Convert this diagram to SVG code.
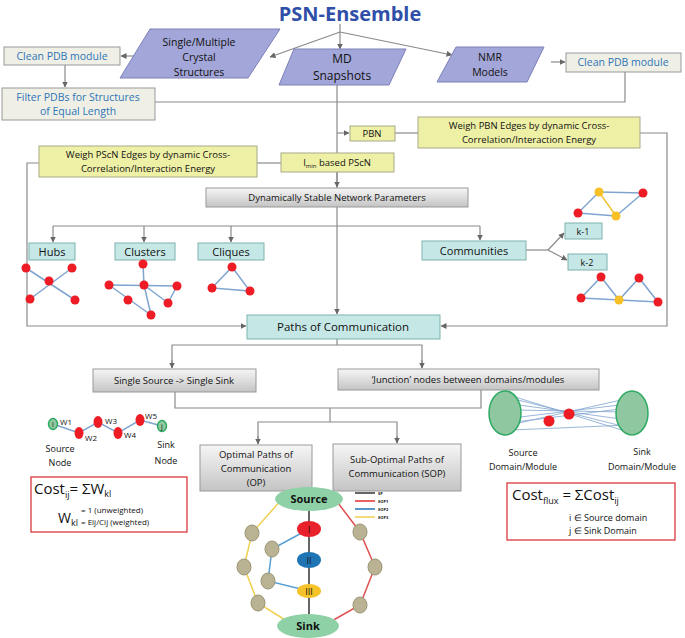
<svg xmlns="http://www.w3.org/2000/svg" width="685" height="638" viewBox="0 0 685 638">
<defs>
<linearGradient id="gg" x1="0" y1="0" x2="0" y2="1"><stop offset="0" stop-color="#f6f6f6"/><stop offset="1" stop-color="#c4c4c4"/></linearGradient>
<marker id="ar" viewBox="0 0 6 6" refX="5.5" refY="3" markerWidth="5" markerHeight="5" orient="auto"><path d="M0,0 L6,3 L0,6 z" fill="#666"/></marker>
</defs>
<style>
text{font-family:"Open Sans","Liberation Sans",sans-serif;fill:#111;}
.t{font-size:10.5px;text-anchor:middle;}
.b{fill:#2e75b6;}
.cl{fill:#efefe6;stroke:#9a9a9a;stroke-width:1;}
.pg{fill:#a3a6d8;stroke:#7d80b8;stroke-width:1;}
.yl{fill:#eef0a6;stroke:#a9aa8a;stroke-width:1;}
.tl{fill:#c5e8e6;stroke:#7fb1ae;stroke-width:1;}
.gr{fill:url(#gg);stroke:#999;stroke-width:1;}
.c line,.c polyline,.c path{stroke:#8a8a8a;stroke-width:1.2;fill:none;}
.e{stroke:#7fa4cf;stroke-width:1.5;}
.ey{stroke:#f1c232;stroke-width:1.5;}
.r{fill:#ee1c25;}
.y{fill:#f6c026;}
.g{fill:#8fc8a0;stroke:#2eaa63;stroke-width:1.5;}
.n{fill:#b9b394;stroke:#9b9575;stroke-width:1;}
.rb{fill:#fff;stroke:#d9393c;stroke-width:1.3;}
</style>
<text x="350" y="21" style="font-size:20px;font-weight:bold;fill:#2f4fa8;text-anchor:middle">PSN-Ensemble</text>

<g class="c" id="connectors">
<line x1="340" y1="24" x2="340" y2="32"/>
<line x1="340" y1="32" x2="270" y2="57" marker-end="url(#ar)"/>
<line x1="340" y1="32" x2="340" y2="49" marker-end="url(#ar)"/>
<line x1="340" y1="32" x2="452" y2="55" marker-end="url(#ar)"/>
<line x1="135" y1="56" x2="121" y2="56" marker-end="url(#ar)"/>
<line x1="551" y1="62" x2="565" y2="62" marker-end="url(#ar)"/>
<line x1="65" y1="65" x2="65" y2="87" marker-end="url(#ar)"/>
<polyline points="625,72 625,102 155,102"/>
<line x1="337" y1="85" x2="337" y2="314" marker-end="url(#ar)"/>
<line x1="337" y1="133" x2="349" y2="133" marker-end="url(#ar)"/>
<line x1="395" y1="133" x2="418" y2="133"/>
<polyline points="640,133 667,133 667,326 441,326" marker-end="url(#ar)"/>
<line x1="337" y1="172" x2="337" y2="187" marker-end="url(#ar)"/>
<line x1="257" y1="163" x2="281" y2="163"/>
<polyline points="39,163 27,163 27,326 246,326" marker-end="url(#ar)"/>
<line x1="53" y1="226" x2="480" y2="226"/>
<line x1="53" y1="226" x2="53" y2="242" marker-end="url(#ar)"/>
<line x1="144" y1="226" x2="144" y2="242" marker-end="url(#ar)"/>
<line x1="231" y1="226" x2="231" y2="242" marker-end="url(#ar)"/>
<line x1="480" y1="226" x2="480" y2="240" marker-end="url(#ar)"/>
<line x1="526" y1="250" x2="548" y2="250"/>
<line x1="548" y1="250" x2="564" y2="233" marker-end="url(#ar)"/>
<line x1="548" y1="250" x2="567" y2="260" marker-end="url(#ar)"/>
<polyline points="337,339 337,345"/>
<polyline points="172,368 172,345 422,345 422,368"/>
<line x1="172" y1="360" x2="172" y2="368" marker-end="url(#ar)"/>
<line x1="422" y1="360" x2="422" y2="368" marker-end="url(#ar)"/>
<polyline points="175,392 175,408 481,408 481,390"/>
<line x1="330" y1="408" x2="330" y2="422"/>
<polyline points="258,444 258,422 397,422 397,443"/>
<line x1="258" y1="436" x2="258" y2="444" marker-end="url(#ar)"/>
<line x1="397" y1="436" x2="397" y2="443" marker-end="url(#ar)"/>
</g>

<g id="crystal"><polygon class="pg" points="150,29 280,29 248,78 120,78"/>
<text class="t" x="199" y="46">Single/Multiple</text><text class="t" x="199" y="61">Crystal</text><text class="t" x="199" y="76">Structures</text></g>
<g id="md"><polygon class="pg" points="294,49 406,49 389,85 279,85"/>
<text class="t" x="342" y="63" style="font-size:12px">MD</text><text class="t" x="342" y="80" style="font-size:12px">Snapshots</text></g>
<g id="nmr"><polygon class="pg" points="456,47 544,47 527,82 437,82"/>
<text class="t" x="490" y="61">NMR</text><text class="t" x="490" y="76">Models</text></g>
<g id="cleanL"><rect class="cl" x="4" y="47" width="116" height="18"/><text class="t b" x="62" y="60">Clean PDB module</text></g>
<g id="cleanR"><rect class="cl" x="566" y="53" width="115" height="19"/><text class="t b" x="623" y="66">Clean PDB module</text></g>
<g id="filter"><rect class="cl" x="2" y="88" width="153" height="32"/><text class="t b" x="78" y="101">Filter PDBs for Structures</text><text class="t b" x="78" y="115">of Equal Length</text></g>
<g id="pbn"><rect class="yl" x="350" y="126" width="45" height="15"/><text class="t" x="372" y="137" style="font-size:9.5px">PBN</text></g>
<g id="weighPBN"><rect class="yl" x="418" y="117" width="222" height="31"/><text class="t" x="529" y="129" style="font-size:9.5px">Weigh  PBN Edges by dynamic Cross-</text><text class="t" x="529" y="143" style="font-size:9.5px">Correlation/Interaction Energy</text></g>
<g id="pscn"><rect class="yl" x="281" y="153" width="113" height="19"/><text class="t" x="337" y="166" style="font-size:9.5px">I<tspan style="font-size:6px" dy="2">min</tspan><tspan dy="-2"> based PScN</tspan></text></g>
<g id="weighPScN"><rect class="yl" x="39" y="146" width="218" height="31"/><text class="t" x="148" y="158" style="font-size:9.5px">Weigh PScN Edges by dynamic Cross-</text><text class="t" x="148" y="172" style="font-size:9.5px">Correlation/Interaction Energy</text></g>
<g id="dsnp"><rect class="gr" x="206" y="188" width="262" height="19"/><text class="t" x="337" y="201" style="font-size:9.5px">Dynamically Stable Network Parameters</text></g>

<g id="hubs"><rect class="tl" x="29" y="243" width="46" height="17"/><text class="t" x="52" y="256" style="font-size:11px">Hubs</text>
<line class="e" x1="26" y1="268" x2="75" y2="300"/><line class="e" x1="72" y1="268" x2="30" y2="299"/>
<circle class="r" cx="26" cy="268" r="4.5"/><circle class="r" cx="72" cy="268" r="4.5"/><circle class="r" cx="49" cy="281" r="4.5"/><circle class="r" cx="30" cy="299" r="4.5"/><circle class="r" cx="75" cy="300" r="4.5"/></g>
<g id="clusters"><rect class="tl" x="115" y="243" width="60" height="17"/><text class="t" x="145" y="256" style="font-size:11px">Clusters</text>
<line class="e" x1="143" y1="264" x2="144" y2="285"/><line class="e" x1="109" y1="285" x2="177" y2="286"/><line class="e" x1="109" y1="285" x2="151" y2="315"/><line class="e" x1="144" y1="285" x2="151" y2="315"/><line class="e" x1="144" y1="285" x2="168" y2="303"/><line class="e" x1="168" y1="303" x2="177" y2="286"/>
<circle class="r" cx="143" cy="264" r="4.5"/><circle class="r" cx="109" cy="285" r="4.5"/><circle class="r" cx="144" cy="285" r="4.5"/><circle class="r" cx="177" cy="286" r="4.5"/><circle class="r" cx="128" cy="300" r="4.5"/><circle class="r" cx="168" cy="303" r="4.5"/><circle class="r" cx="151" cy="315" r="4.5"/></g>
<g id="cliques"><rect class="tl" x="198" y="243" width="66" height="17"/><text class="t" x="231" y="256" style="font-size:11px">Cliques</text>
<polygon class="e" fill="none" points="232,267 212,288 250,291"/>
<circle class="r" cx="232" cy="267" r="4.5"/><circle class="r" cx="212" cy="288" r="4.5"/><circle class="r" cx="250" cy="291" r="4.5"/></g>
<g id="communities"><rect class="tl" x="422" y="241" width="104" height="19"/><text class="t" x="474" y="255" style="font-size:11px">Communities</text>
<line class="e" x1="599" y1="192" x2="643" y2="193"/><line class="e" x1="578" y1="213" x2="599" y2="192"/><line class="e" x1="578" y1="213" x2="616" y2="216"/><line class="e" x1="616" y1="216" x2="643" y2="193"/><line class="ey" x1="599" y1="192" x2="616" y2="216"/>
<circle class="y" cx="599" cy="192" r="4.5"/><circle class="r" cx="643" cy="193" r="4.5"/><circle class="r" cx="578" cy="213" r="4.5"/><circle class="y" cx="616" cy="216" r="4.5"/>
<polyline class="e" fill="none" points="581,298 601,277 619,300 581,298"/><polyline class="e" fill="none" points="619,300 639,278 658,302 619,300"/>
<circle class="r" cx="581" cy="298" r="4.5"/><circle class="r" cx="601" cy="277" r="4.5"/><circle class="y" cx="619" cy="300" r="4.5"/><circle class="r" cx="639" cy="278" r="4.5"/><circle class="r" cx="658" cy="302" r="4.5"/></g>
<g id="k1"><rect class="tl" x="565" y="223" width="37" height="16"/><text class="t" x="583" y="235" style="font-size:9px">k-1</text></g>
<g id="k2"><rect class="tl" x="568" y="254" width="39" height="16"/><text class="t" x="587" y="266" style="font-size:9px">k-2</text></g>

<g id="paths"><rect class="tl" x="247" y="315" width="193" height="24"/><text class="t" x="343" y="331" style="font-size:11.5px">Paths of Communication</text></g>
<g id="single"><rect class="gr" x="93" y="369" width="163" height="23"/><text class="t" x="174" y="384" style="font-size:9.5px">Single Source -&gt; Single Sink</text></g>
<g id="junction"><rect class="gr" x="338" y="369" width="261" height="21"/><text class="t" x="468" y="383" style="font-size:9.5px">‘Junction’ nodes between domains/modules</text></g>
<g id="op"><rect class="gr" x="200" y="445" width="112" height="46"/><text class="t" x="256" y="458" style="font-size:9.5px">Optimal Paths of</text><text class="t" x="256" y="472" style="font-size:9.5px">Communication</text><text class="t" x="256" y="486" style="font-size:9.5px">(OP)</text></g>
<g id="sop"><rect class="gr" x="333" y="444" width="128" height="47"/><text class="t" x="397" y="463" style="font-size:9.5px">Sub-Optimal Paths of</text><text class="t" x="397" y="477" style="font-size:9.5px">Communication (SOP)</text></g>

<g id="chain">
<polyline class="e" fill="none" points="53,424 79,433 98,422 118,433 140,420 162,426"/>
<ellipse class="g" cx="53" cy="424" rx="4.5" ry="5.5"/><text x="53" y="427" style="font-size:7px;text-anchor:middle">i</text>
<ellipse class="r" cx="79" cy="433" rx="4.5" ry="6"/><ellipse class="r" cx="98" cy="422" rx="4.5" ry="6"/><ellipse class="r" cx="118" cy="433" rx="4.5" ry="6"/><ellipse class="r" cx="140" cy="420" rx="4.5" ry="6"/>
<ellipse class="g" cx="162" cy="426" rx="4.5" ry="5.5"/><text x="162" y="429" style="font-size:7px;text-anchor:middle">j</text>
<g style="font-size:8px"><text x="60" y="425">W1</text><text x="85" y="441">W2</text><text x="105" y="424">W3</text><text x="124" y="438">W4</text><text x="145" y="419">W5</text></g>
<text class="t" x="60" y="452" style="font-size:9px">Source</text><text class="t" x="60" y="466" style="font-size:9px">Node</text>
<text class="t" x="166" y="448" style="font-size:9px">Sink</text><text class="t" x="166" y="464" style="font-size:9px">Node</text>
</g>
<g id="costij"><rect class="rb" x="31" y="477" width="156" height="55"/>
<text x="34" y="494" style="font-size:15px">Cost<tspan style="font-size:9px" dy="4">ij</tspan><tspan dy="-4">= ΣW</tspan><tspan style="font-size:9px" dy="3">kl</tspan></text>
<text x="58" y="523" style="font-size:14px">W<tspan style="font-size:9px" dy="3">kl</tspan></text>
<text x="81" y="513" style="font-size:8px">= 1 (unweighted)</text><text x="81" y="525" style="font-size:8px">= Eij/Cij (weighted)</text></g>

<g id="domains">
<g class="e" style="stroke-width:0.8">
<line x1="510" y1="398" x2="630" y2="428"/><line x1="512" y1="404" x2="628" y2="420"/><line x1="515" y1="410" x2="625" y2="412"/><line x1="512" y1="418" x2="628" y2="404"/><line x1="510" y1="425" x2="630" y2="398"/><line x1="512" y1="430" x2="628" y2="425"/><line x1="512" y1="396" x2="628" y2="432"/><line x1="515" y1="422" x2="628" y2="408"/></g>
<ellipse class="g" cx="505" cy="413" rx="16" ry="22"/><ellipse class="g" cx="632" cy="413" rx="16" ry="22"/>
<circle class="r" cx="549" cy="421" r="5.5"/><circle class="r" cx="569" cy="414" r="5.5"/>
<text class="t" x="523" y="456" style="font-size:9px">Source</text><text class="t" x="523" y="470" style="font-size:9px">Domain/Module</text>
<text class="t" x="642" y="455" style="font-size:9px">Sink</text><text class="t" x="642" y="470" style="font-size:9px">Domain/Module</text></g>
<g id="costflux"><rect class="rb" x="507" y="483" width="168" height="57"/>
<text x="512" y="500" style="font-size:15px">Cost<tspan style="font-size:9px" dy="4">flux</tspan><tspan dy="-4"> = ΣCost</tspan><tspan style="font-size:9px" dy="4">ij</tspan></text>
<text x="569" y="521" style="font-size:9px">i ∈ Source domain</text><text x="569" y="534" style="font-size:9px">j ∈ Sink Domain</text></g>

<g id="opgraph">
<polyline fill="none" stroke="#f0d050" stroke-width="1.5" points="282,499 252,533 244,567 258,603 290,623"/>
<polyline fill="none" stroke="#e05050" stroke-width="1.5" points="338,503 360,532 375,567 360,605 330,622"/>
<polyline fill="none" stroke="#5a9fd4" stroke-width="1.5" points="309,529 272,549 268,581 309,591"/>
<line x1="309" y1="499" x2="309" y2="627" stroke="#333" stroke-width="1.5"/>
<ellipse cx="309" cy="499" rx="34" ry="12" fill="#8fd1a6"/><text class="t" x="309" y="503" style="font-size:11px;font-weight:bold">Source</text>
<ellipse cx="309" cy="529" rx="12" ry="8" fill="#e8212a"/><text class="t" x="309" y="533" style="font-size:9px">I</text>
<ellipse cx="309" cy="560" rx="12" ry="8" fill="#1f74b4"/><text class="t" x="309" y="564" style="font-size:9px">II</text>
<ellipse cx="309" cy="591" rx="12" ry="7" fill="#f5c329"/><text class="t" x="309" y="595" style="font-size:9px">III</text>
<ellipse cx="308" cy="626" rx="31" ry="12" fill="#8fd1a6"/><text class="t" x="308" y="630" style="font-size:11px;font-weight:bold">Sink</text>
<ellipse class="n" cx="252" cy="533" rx="7" ry="8"/><ellipse class="n" cx="244" cy="567" rx="7" ry="8"/><ellipse class="n" cx="258" cy="603" rx="7" ry="8"/>
<ellipse class="n" cx="272" cy="549" rx="7" ry="8"/><ellipse class="n" cx="268" cy="581" rx="7" ry="8"/>
<ellipse class="n" cx="360" cy="532" rx="7" ry="8"/><ellipse class="n" cx="375" cy="567" rx="7" ry="8"/><ellipse class="n" cx="360" cy="605" rx="7" ry="8"/>
<line x1="355" y1="493" x2="375" y2="493" stroke="#333" stroke-width="1.5"/><line x1="355" y1="501" x2="375" y2="501" stroke="#e03030" stroke-width="1.5"/><line x1="355" y1="509" x2="375" y2="509" stroke="#1f74b4" stroke-width="1.5"/><line x1="355" y1="517" x2="375" y2="517" stroke="#f0d050" stroke-width="1.5"/>
<g style="font-size:4px;font-weight:bold"><text x="378" y="495">SP</text><text x="378" y="503">SOP1</text><text x="378" y="511">SOP2</text><text x="378" y="519">SOP3</text></g>
</g>
</svg>
